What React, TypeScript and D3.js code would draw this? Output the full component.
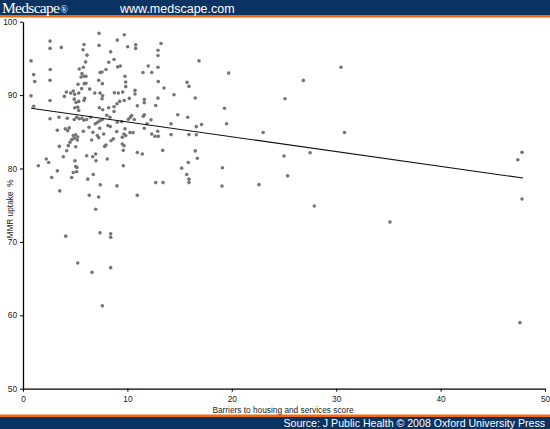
import React, { useRef, useEffect } from 'react';
import * as d3 from 'd3';

// Barriers to housing and services score (x) vs MMR uptake % (y)
const barrierScores: number[] = [
  7.28, 2.59, 2.59, 3.67, 5.84, 7.28, 0.77, 6.13, 6.0, 8.21,
  1.02, 1.12, 2.61, 2.59, 5.39, 5.78, 5.65, 5.84, 5.56, 6.03,
  5.87, 7.25, 7.38, 7.57, 7.95, 5.27, 5.62, 6.39, 4.15, 3.96,
  0.77, 2.59, 1.02, 4.82, 4.57, 4.95, 5.34, 4.91, 5.08, 5.34,
  5.91, 5.84, 6.87, 7.38, 7.57, 7.31, 7.63, 8.21, 4.95, 5.24,
  5.34, 6.03, 7.6, 7.63, 5.75,
  2.59, 3.45, 4.24, 4.91, 5.14, 5.39, 5.65, 5.84, 6.1, 6.48,
  6.93, 7.16, 7.38, 7.6, 3.29, 4.05, 4.28, 4.43, 5.78, 6.32,
  6.7, 7.35, 7.12, 7.25, 7.73, 8.14, 4.82, 5.05, 5.24, 4.91,
  4.66, 4.5, 5.2, 4.34, 3.48, 4.19, 5.05, 6.58, 7.83, 7.95,
  3.86, 2.23, 2.46, 4.98, 6.1, 6.68, 6.96, 6.99, 8.07, 1.47,
  5.05, 5.17, 3.29, 4.82, 5.14, 6.73, 2.75, 4.66, 6.2, 7.4,
  3.52, 6.35, 7.25, 6.96,
  4.09, 7.38, 8.4, 8.4, 5.24, 6.61, 8.4, 7.6,
  9.7, 9.03, 10.03, 10.79, 10.79, 13.22, 8.4, 12.93, 12.93, 8.72,
  9.07, 9.32, 12.0, 12.93, 11.49, 12.33, 9.77, 9.84, 9.84, 12.96,
  13.51, 15.71, 15.9, 8.75, 9.13, 9.55, 10.73, 10.73, 14.46, 10.18,
  9.7, 9.26, 9.0, 8.72, 8.72, 11.62, 11.62, 12.93, 12.71, 10.95,
  14.82, 15.78, 8.02, 8.33, 10.28, 10.41, 10.09, 10.66, 11.62, 11.52,
  12.26,
  9.03, 9.45, 11.88, 11.62, 14.18, 8.36, 8.98, 9.77, 9.67, 9.51,
  9.84, 10.25, 10.54, 12.33, 12.64, 12.96, 12.9, 14.18, 15.9, 8.65,
  8.43, 9.51, 9.67, 9.61, 10.95, 11.43, 13.38, 9.61, 15.83, 15.2,
  15.68, 15.9, 15.9, 12.71, 13.41, 9.0, 10.95,
  16.86, 19.7, 16.5, 19.3, 16.6, 17.1, 16.6, 19.5, 23.0, 16.5,
  16.7, 19.1, 19.06, 22.6, 25.1, 26.85, 25.0, 25.35, 27.5, 27.9,
  30.46, 30.8, 35.15,
  47.8, 47.4, 47.8, 47.6,
];

const mmrUptake: number[] = [
  98.41, 97.36, 96.36, 96.5, 96.9, 96.77, 94.66, 95.44, 94.52, 94.48,
  92.79, 91.84, 93.48, 92.01, 93.56, 93.79, 92.93, 92.56, 92.47, 92.56,
  91.56, 92.01, 93.07, 93.15, 93.48, 91.47, 90.88, 90.82, 90.41, 89.82,
  89.9, 89.27, 88.49, 90.55, 90.27, 90.1, 90.27, 89.45, 89.0, 89.14,
  89.55, 89.27, 90.27, 90.27, 89.51, 88.27, 88.0, 88.27, 88.27, 88.36,
  87.9, 91.6, 91.56, 89.92, 96.17,
  86.77, 86.99, 86.85, 86.67, 86.99, 86.77, 86.85, 86.58, 86.67, 86.99,
  86.08, 86.3, 86.53, 86.67, 85.21, 85.4, 85.16, 85.53, 85.07, 85.62,
  84.93, 85.48, 84.48, 84.21, 84.71, 85.85, 84.48, 84.58, 84.3, 84.11,
  83.93, 83.56, 83.89, 83.11, 83.01, 82.42, 82.97, 83.89, 83.01, 83.21,
  81.6, 81.29, 80.82, 81.05, 81.74, 81.6, 81.97, 81.05, 81.29, 80.37,
  80.27, 80.14, 79.68, 79.45, 79.55, 79.18, 78.77, 78.77, 78.55, 77.77,
  76.95, 76.36, 76.12, 74.44,
  70.78, 71.23, 71.1, 70.64, 67.12, 65.85, 66.49, 61.29,
  98.22, 97.49, 96.58, 96.85, 96.36, 97.04, 95.89, 96.12, 95.4, 94.85,
  93.84, 93.97, 93.97, 93.79, 93.07, 93.07, 92.56, 91.78, 91.15, 91.84,
  90.96, 91.74, 91.19, 90.33, 90.27, 90.41, 90.64, 90.14, 90.05, 89.55,
  89.27, 89.14, 88.82, 88.41, 87.77, 89.41, 88.96, 89.59, 88.59, 88.55,
  87.32, 86.99, 87.26, 86.99, 86.99, 87.22, 86.71, 86.67, 87.32, 87.12,
  86.63,
  86.3, 86.4, 86.08, 85.48, 86.08, 85.71, 85.03, 85.4, 84.71, 84.25,
  84.48, 84.89, 84.89, 84.71, 84.38, 84.38, 85.07, 84.62, 84.62, 84.03,
  83.79, 83.34, 83.11, 82.47, 82.19, 81.97, 82.47, 80.37, 80.82, 80.05,
  79.18, 78.55, 78.08, 78.08, 78.08, 77.63, 76.36,
  94.66, 93.0, 89.6, 88.2, 85.7, 86.0, 84.6, 86.1, 84.9, 82.4,
  81.4, 80.1, 77.6, 77.8, 89.5, 92.0, 81.7, 79.0, 82.15, 74.9,
  93.8, 84.9, 72.7,
  82.2, 81.2, 75.85, 59.0,
];

// fitted line as drawn: ends at the lowest and highest score
const trendLine: [number, number][] = [[0.77, 88.2], [47.9, 78.7]];

const xTicks = [0, 10, 20, 30, 40, 50];
const yTicks = [50, 60, 70, 80, 90, 100];

const NAVY = '#0b3362';
const ORANGE = '#f26a10';
const FONT = '"Liberation Sans", Arial, sans-serif';

const App: React.FC = () => {
  const svgRef = useRef<SVGSVGElement>(null);
  const width = 550;
  const height = 429;

  useEffect(() => {
    if (!svgRef.current) return;
    const svg = d3.select(svgRef.current);
    svg.selectAll('*').remove();

    // header and footer bands
    svg.append('rect').attr('x', 0).attr('y', 0).attr('width', width).attr('height', 15).attr('fill', NAVY);
    svg.append('rect').attr('x', 0).attr('y', 15).attr('width', width).attr('height', 2.5).attr('fill', ORANGE);
    svg.append('rect').attr('x', 0).attr('y', 414.5).attr('width', width).attr('height', 2.5).attr('fill', ORANGE);
    svg.append('rect').attr('x', 0).attr('y', 417).attr('width', width).attr('height', 12).attr('fill', NAVY);

    svg.append('text')
      .attr('x', 2).attr('y', 13)
      .attr('fill', '#fff')
      .style('font-family', '"Liberation Serif", serif')
      .style('font-size', '15.5px')
      .style('letter-spacing', '-0.7px')
      .text('Medscape')
      .append('tspan')
      .style('font-size', '10px')
      .style('letter-spacing', '0px')
      .attr('dx', 1)
      .text('®');

    svg.append('text')
      .attr('x', 120).attr('y', 12.5)
      .attr('fill', '#fff')
      .style('font-family', FONT)
      .style('font-size', '12.5px')
      .text('www.medscape.com');

    svg.append('text')
      .attr('x', 545).attr('y', 426.5)
      .attr('text-anchor', 'end')
      .attr('fill', '#fff')
      .style('font-family', FONT)
      .style('font-size', '10.6px')
      .text('Source: J Public Health © 2008 Oxford University Press');

    const x = d3.scaleLinear().domain([0, 50]).range([23, 545]);
    const y = d3.scaleLinear().domain([50, 100]).range([388.7, 21.7]);

    const axisFont = (sel: d3.Selection<SVGGElement, unknown, null, undefined>) => {
      sel.selectAll('text')
        .style('font-family', FONT)
        .style('font-size', '8.3px')
        .attr('fill', '#222');
      sel.selectAll('line').attr('stroke', '#000');
      sel.select('.domain').attr('stroke', '#000').attr('stroke-width', 1.3);
    };

    svg.append('g')
      .attr('transform', `translate(0,${y(50)})`)
      .call(d3.axisBottom(x).tickValues(xTicks).tickSize(3).tickSizeOuter(0).tickPadding(4))
      .call(axisFont);

    svg.append('g')
      .attr('transform', `translate(${x(0)},0)`)
      .call(d3.axisLeft(y).tickValues(yTicks).tickSize(3).tickSizeOuter(0).tickPadding(3))
      .call(axisFont);

    svg.append('text')
      .attr('x', 283).attr('y', 412.5)
      .attr('text-anchor', 'middle')
      .attr('fill', '#222')
      .style('font-family', FONT)
      .style('font-size', '8.3px')
      .text('Barriers to housing and services score');

    svg.append('text')
      .attr('transform', `translate(12.5,209) rotate(-90)`)
      .attr('text-anchor', 'middle')
      .attr('fill', '#222')
      .style('font-family', FONT)
      .style('font-size', '8.3px')
      .style('white-space', 'pre')
      .text('MMR uptake  %');

    const points = barrierScores.map((b, i) => ({ b, m: mmrUptake[i] }));

    svg.append('g')
      .selectAll('circle')
      .data(points)
      .enter()
      .append('circle')
      .attr('cx', d => x(d.b))
      .attr('cy', d => y(d.m))
      .attr('r', 1.8)
      .attr('fill', '#757575');

    const line = d3.line<[number, number]>()
      .x(d => x(d[0]))
      .y(d => y(d[1]));

    svg.append('path')
      .datum(trendLine)
      .attr('d', line)
      .attr('fill', 'none')
      .attr('stroke', '#111')
      .attr('stroke-width', 1.1);
  }, []);

  return (
    <svg
      ref={svgRef}
      width={width}
      height={height}
      style={{ position: 'absolute', left: 0, top: 0, background: '#fff' }}
    />
  );
};

export default App;
